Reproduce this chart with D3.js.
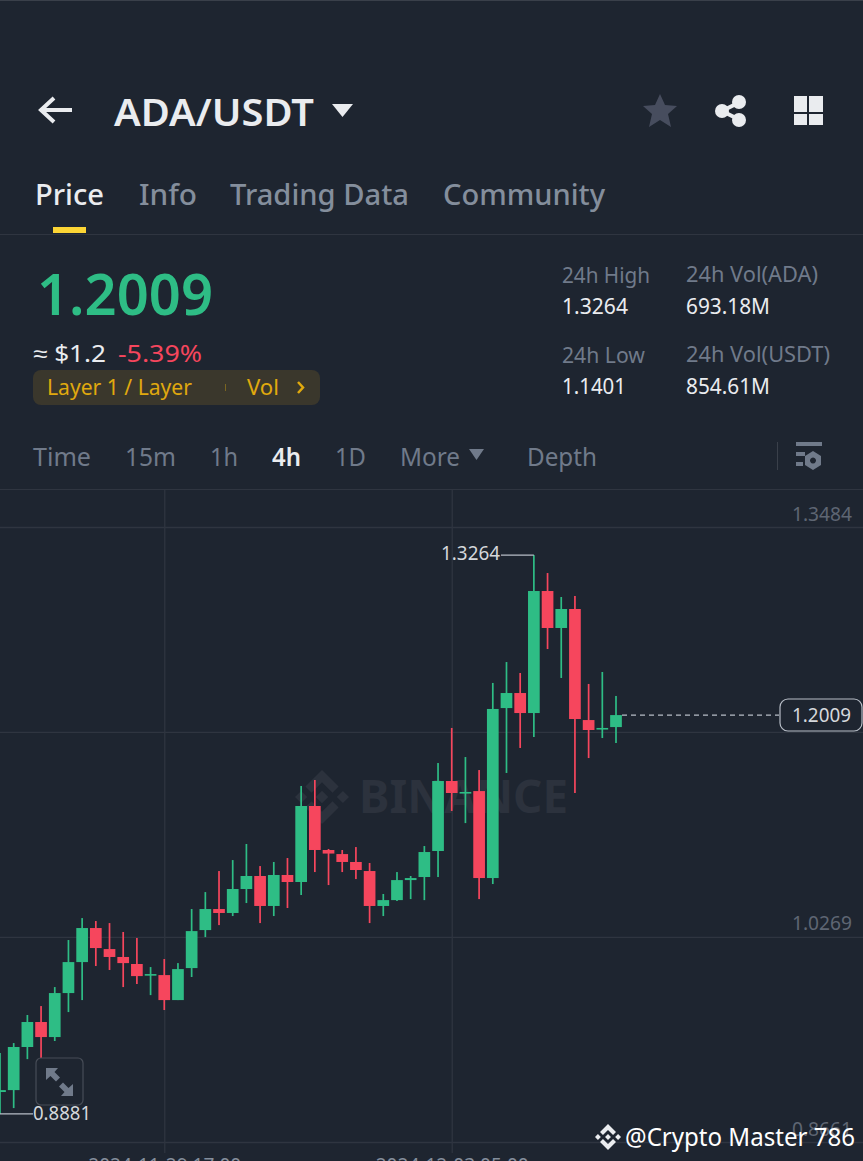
<!DOCTYPE html>
<html>
<head>
<meta charset="utf-8">
<script src="https://cdn.jsdelivr.net/npm/d3@7"></script>
<style>
  html, body { margin: 0; padding: 0; background: #1e2530; overflow: hidden; }
  svg { display: block; }
  text { font-family: "Noto Sans", sans-serif; }
</style>
</head>
<body>
<script>
// candles, 4h
const opens  = [.9053,.9068,.9406,.9602,.9484,.9829,1.0072,1.0339,1.0174,1.0112,1.0057,.9966,.9970,.9774,1.0025,1.0323,1.0488,1.0457,1.0645,1.0747,1.0512,1.0755,1.0700,1.1296,1.0951,1.0919,1.0857,1.0786,1.0512,1.0558,1.0715,1.0739,1.0943,1.1492,1.1398,1.1413,1.0731,1.2064,1.2182,1.2025,1.2982,1.2692,1.2841,1.1970,1.1896,1.1915];
const highs  = [.9359,.9437,.9657,.9727,.9876,1.0245,1.0417,1.0394,1.0378,1.0308,1.0261,1.0033,1.0096,1.0064,1.0488,1.0621,1.0786,1.0872,1.0998,1.0825,1.0857,1.0888,1.1453,1.1500,1.0959,1.0951,1.0974,1.0849,1.0606,1.0778,1.0747,1.0982,1.1633,1.1908,1.1680,1.1578,1.2261,1.2425,1.2339,1.3264,1.3123,1.2935,1.2943,1.2253,1.2347,1.2159];
const lows   = [.8881,.8927,.9311,.9319,.9453,.9680,.9774,1.0041,1.0010,.9876,.9900,.9813,.9696,.9774,.9955,1.0268,1.0362,1.0433,1.0535,1.0378,1.0433,1.0496,1.0598,1.0778,1.0676,1.0778,1.0723,1.0378,1.0433,1.0551,1.0566,1.0558,1.0739,1.1257,1.1162,1.0566,1.0684,1.1555,1.1751,1.1837,1.2527,1.2300,1.1398,1.1672,1.1829,1.1790];
const closes = [.9068,.9406,.9602,.9484,.9829,1.0072,1.0339,1.0182,1.0112,1.0064,.9962,.9978,.9774,1.0017,1.0315,1.0488,1.0457,1.0645,1.0747,1.0512,1.0755,1.0700,1.1296,1.0951,1.0923,1.0857,1.0794,1.0512,1.0558,1.0715,1.0731,1.0935,1.1492,1.1398,1.1406,1.0731,1.2057,1.2182,1.2025,1.2982,1.2692,1.2841,1.1978,1.1892,1.1908,1.2009];

const priceTicks = [1.3484, 1.1877, 1.0269, 0.8661];
const dateTicks = [12, 33];
const dateLabels = ["2024-11-29 17:00", "2024-12-03 05:00"];
const lastPrice = 1.2009, highPrice = 1.3264, lowPrice = 0.8881;
const highIndex = 39, lowIndex = 0;

const GREEN = "#2ebd85", RED = "#f6465d", BG = "#1e2530", LINE = "#2f3540";

const svg = d3.select("body").append("svg").attr("width", 863).attr("height", 1161);
svg.append("rect").attr("width", 863).attr("height", 1161).attr("fill", BG);
svg.append("rect").attr("width", 863).attr("height", 1).attr("fill", "#3a404a");

function label(x, y, str, size, color, width, weight) {
    let t = svg.append("text").attr("x", x).attr("y", y).text(str)
       .attr("font-size", size).attr("fill", color).attr("font-weight", weight || 400);
    if (width) t.attr("textLength", width).attr("lengthAdjust", "spacingAndGlyphs");
    return t;
}

// header
svg.append("path").attr("d", "M72 110H42M54 98L41 110L54 122").attr("fill", "none")
   .attr("stroke", "#eaecef").attr("stroke-width", 4);
label(114, 126, "ADA/USDT", 38, "#eaecef", 200, 600);
svg.append("path").attr("d", "M332 104H353L342.5 117Z").attr("fill", "#eaecef");
svg.append("path").attr("fill", "#474d5e")
   .attr("d", "M660 94L665 105L677 106L668 114L671 127L660 120L649 127L652 114L643 106L655 105Z");
svg.append("path").attr("d", "M740 102L722 111L740 120").attr("fill", "none").attr("stroke", "#eaecef").attr("stroke-width", 4);
svg.selectAll("circle.share").data([[739, 102], [722, 111], [739, 120]]).enter().append("circle")
   .attr("class", "share").attr("cx", d => d[0]).attr("cy", d => d[1]).attr("r", 7).attr("fill", "#eaecef");
svg.selectAll("rect.apps").data([[794, 96, 13, 16], [809, 96, 14, 16], [794, 114, 13, 11], [809, 114, 14, 11]]).enter().append("rect")
   .attr("class", "apps").attr("x", d => d[0]).attr("y", d => d[1]).attr("width", d => d[2]).attr("height", d => d[3]).attr("fill", "#eaecef");

// tabs
label(35, 205, "Price", 29, "#eaecef", 69, 500);
label(139, 205, "Info", 29, "#848e9c", 58, 500);
label(230, 205, "Trading Data", 29, "#848e9c", 179, 500);
label(443, 205, "Community", 29, "#848e9c", 162, 500);
svg.append("rect").attr("x", 53).attr("y", 227).attr("width", 33).attr("height", 6).attr("fill", "#fcd535");
svg.append("rect").attr("x", 0).attr("y", 234).attr("width", 863).attr("height", 1).attr("fill", LINE);

// price block
label(37, 315, "1.2009", 58, GREEN, 176, 600);
label(33, 362, "≈ $1.2", 24, "#eaecef", 73);
label(118, 362, "-5.39%", 24, RED, 84);
svg.append("rect").attr("x", 33).attr("y", 370).attr("width", 287).attr("height", 35).attr("rx", 8).attr("fill", "#3a372c");
label(47, 395, "Layer 1 / Layer", 22, "#e0a90e", 145);
svg.append("rect").attr("x", 225).attr("y", 384).attr("width", 1).attr("height", 7).attr("fill", "#7a6520");
label(247, 395, "Vol", 22, "#e0a90e", 32);
svg.append("path").attr("d", "M298 382L303 387.5L298 393").attr("fill", "none").attr("stroke", "#e0a90e").attr("stroke-width", 2.5);

label(562, 283, "24h High", 22, "#707a8a", 88);
label(562, 314, "1.3264", 22, "#eaecef", 66);
label(686, 282, "24h Vol(ADA)", 22, "#707a8a", 132);
label(686, 314, "693.18M", 22, "#eaecef", 84);
label(562, 363, "24h Low", 22, "#707a8a", 83);
label(562, 394, "1.1401", 22, "#eaecef", 64);
label(686, 362, "24h Vol(USDT)", 22, "#707a8a", 144);
label(686, 394, "854.61M", 22, "#eaecef", 84);

// interval row
label(33, 466, "Time", 25, "#707a8a", 58);
label(125, 466, "15m", 25, "#707a8a", 51);
label(210, 466, "1h", 25, "#707a8a", 28);
label(272, 466, "4h", 25, "#eaecef", 29, 600);
label(335, 466, "1D", 25, "#707a8a", 31);
label(400, 466, "More", 25, "#707a8a", 60);
svg.append("path").attr("d", "M469 449H484L476.5 460Z").attr("fill", "#707a8a");
label(527, 466, "Depth", 25, "#707a8a", 70);
svg.append("rect").attr("x", 777).attr("y", 442).attr("width", 1).attr("height", 28).attr("fill", "#3a404a");
svg.append("path").attr("fill", "#707a8a").attr("fill-rule", "evenodd")
   .attr("d", "M796 442H822V446H796ZM796 452H805V456H796ZM796 462H803V466H796ZM813 451L821 456V465L813 470L805 465V456ZM813 457.5A3 3 0 1 0 813.01 457.5Z");
svg.append("rect").attr("x", 0).attr("y", 489).attr("width", 863).attr("height", 1).attr("fill", LINE);

// scales
let x = d3.scaleLinear().domain([0, 45]).range([0, 616]);
let y = d3.scaleLinear().domain([priceTicks[0], priceTicks[3]]).range([527, 1142]);

// grid + axes
let yAxis = d3.axisLeft(y).tickValues(priceTicks).tickSize(863)
    .tickFormat(d => d === 1.1877 ? "" : d.toFixed(4));
svg.append("g").attr("transform", "translate(863,0)").call(yAxis)
   .call(g => g.select(".domain").remove())
   .call(g => g.selectAll("line").attr("stroke", LINE).attr("stroke-width", 1.3))
   .call(g => g.selectAll("text").attr("x", -11).attr("text-anchor", "end").attr("dy", 0).attr("y", -7)
       .attr("font-size", 19).attr("fill", "#5e6673").attr("font-family", "Noto Sans")
       .attr("textLength", 60).attr("lengthAdjust", "spacingAndGlyphs"));

let xAxis = d3.axisBottom(x).tickValues(dateTicks).tickSize(663)
    .tickFormat((d, i) => dateLabels[i]);
svg.append("g").attr("transform", "translate(0,490)").call(xAxis)
   .call(g => g.select(".domain").remove())
   .call(g => g.selectAll("line").attr("stroke", LINE).attr("stroke-width", 1.3))
   .call(g => g.selectAll("text").attr("y", 682).attr("dy", 0).attr("font-size", 20)
       .attr("fill", "#848e9c").attr("font-family", "Noto Sans")
       .attr("textLength", 153).attr("lengthAdjust", "spacingAndGlyphs"));

// binance mark
const markPaths = "M38.73 53.2L63.3 28.63L87.9 53.21L102.2 38.92L63.3 0L24.44 38.9ZM0 63.3L14.3 49L28.6 63.3L14.3 77.6ZM38.73 73.4L63.3 97.97L87.9 73.39L102.2 87.68L63.3 126.6L24.44 87.7ZM98 63.3L112.3 49L126.6 63.3L112.3 77.6ZM77.83 63.3L63.3 48.77L48.77 63.3L63.3 77.83Z";
function mark(cx, cy, size, color) {
    svg.append("path").attr("d", markPaths).attr("fill", color)
       .attr("transform", `translate(${cx - size / 2},${cy - size / 2}) scale(${size / 126.6})`);
}
mark(322, 797, 54, "#2c323d");
label(359, 813, "BINANCE", 46, "#2c323d", 209, 700);

// candles
let candles = svg.append("g").selectAll("g").data(d3.range(opens.length)).enter().append("g")
    .attr("fill", i => closes[i] >= opens[i] ? GREEN : RED);
candles.append("rect").attr("class", "wick")
    .attr("x", i => x(i) - 0.85).attr("width", 1.7)
    .attr("y", i => y(highs[i])).attr("height", i => y(lows[i]) - y(highs[i]));
candles.append("rect").attr("class", "body")
    .attr("x", i => x(i) - 5.85).attr("width", 11.7)
    .attr("y", i => y(Math.max(opens[i], closes[i])))
    .attr("height", i => Math.max(1.6, Math.abs(y(opens[i]) - y(closes[i]))));

// high / low / last markers
const MARK = "#b7bdc6";
svg.append("path").attr("fill", "none").attr("stroke", MARK).attr("stroke-width", 1.2)
   .attr("d", `M${x(highIndex)} ${y(highPrice)}H501`);
label(441, 560, highPrice.toFixed(4), 19, "#d5d8dc", 59);
svg.append("path").attr("fill", "none").attr("stroke", MARK).attr("stroke-width", 1.2)
   .attr("d", `M${x(lowIndex)} ${y(lowPrice)}H33`);
label(33, 1120, lowPrice.toFixed(4), 19, "#d5d8dc", 58);

svg.append("line").attr("x1", x(45) + 6).attr("x2", 779).attr("y1", y(lastPrice)).attr("y2", y(lastPrice))
   .attr("stroke", MARK).attr("stroke-width", 1.2).attr("stroke-dasharray", "5 4");
svg.append("rect").attr("x", 780).attr("y", 699).attr("width", 82).attr("height", 32).attr("rx", 8)
   .attr("fill", BG).attr("stroke", MARK).attr("stroke-width", 1.2);
label(792, 722, lastPrice.toFixed(4), 19, "#d5d8dc", 59);

// expand button
svg.append("rect").attr("x", 36).attr("y", 1058).attr("width", 47).attr("height", 47).attr("rx", 5)
   .attr("fill", BG).attr("stroke", "#474d57").attr("stroke-width", 1.2);
svg.append("path").attr("fill", "#707a8a")
   .attr("d", "M46 1068H58L54.5 1072L60 1077.5L56 1081.5L50.5 1076L46 1080ZM73 1096H61L64.5 1092L59 1086.5L63 1082.5L68.5 1088L73 1084Z");

// post watermark
mark(608, 1137, 26, "#eaecef");
label(625, 1146, "@Crypto Master 786", 26, "#ffffff", 230);
</script>
</body>
</html>
